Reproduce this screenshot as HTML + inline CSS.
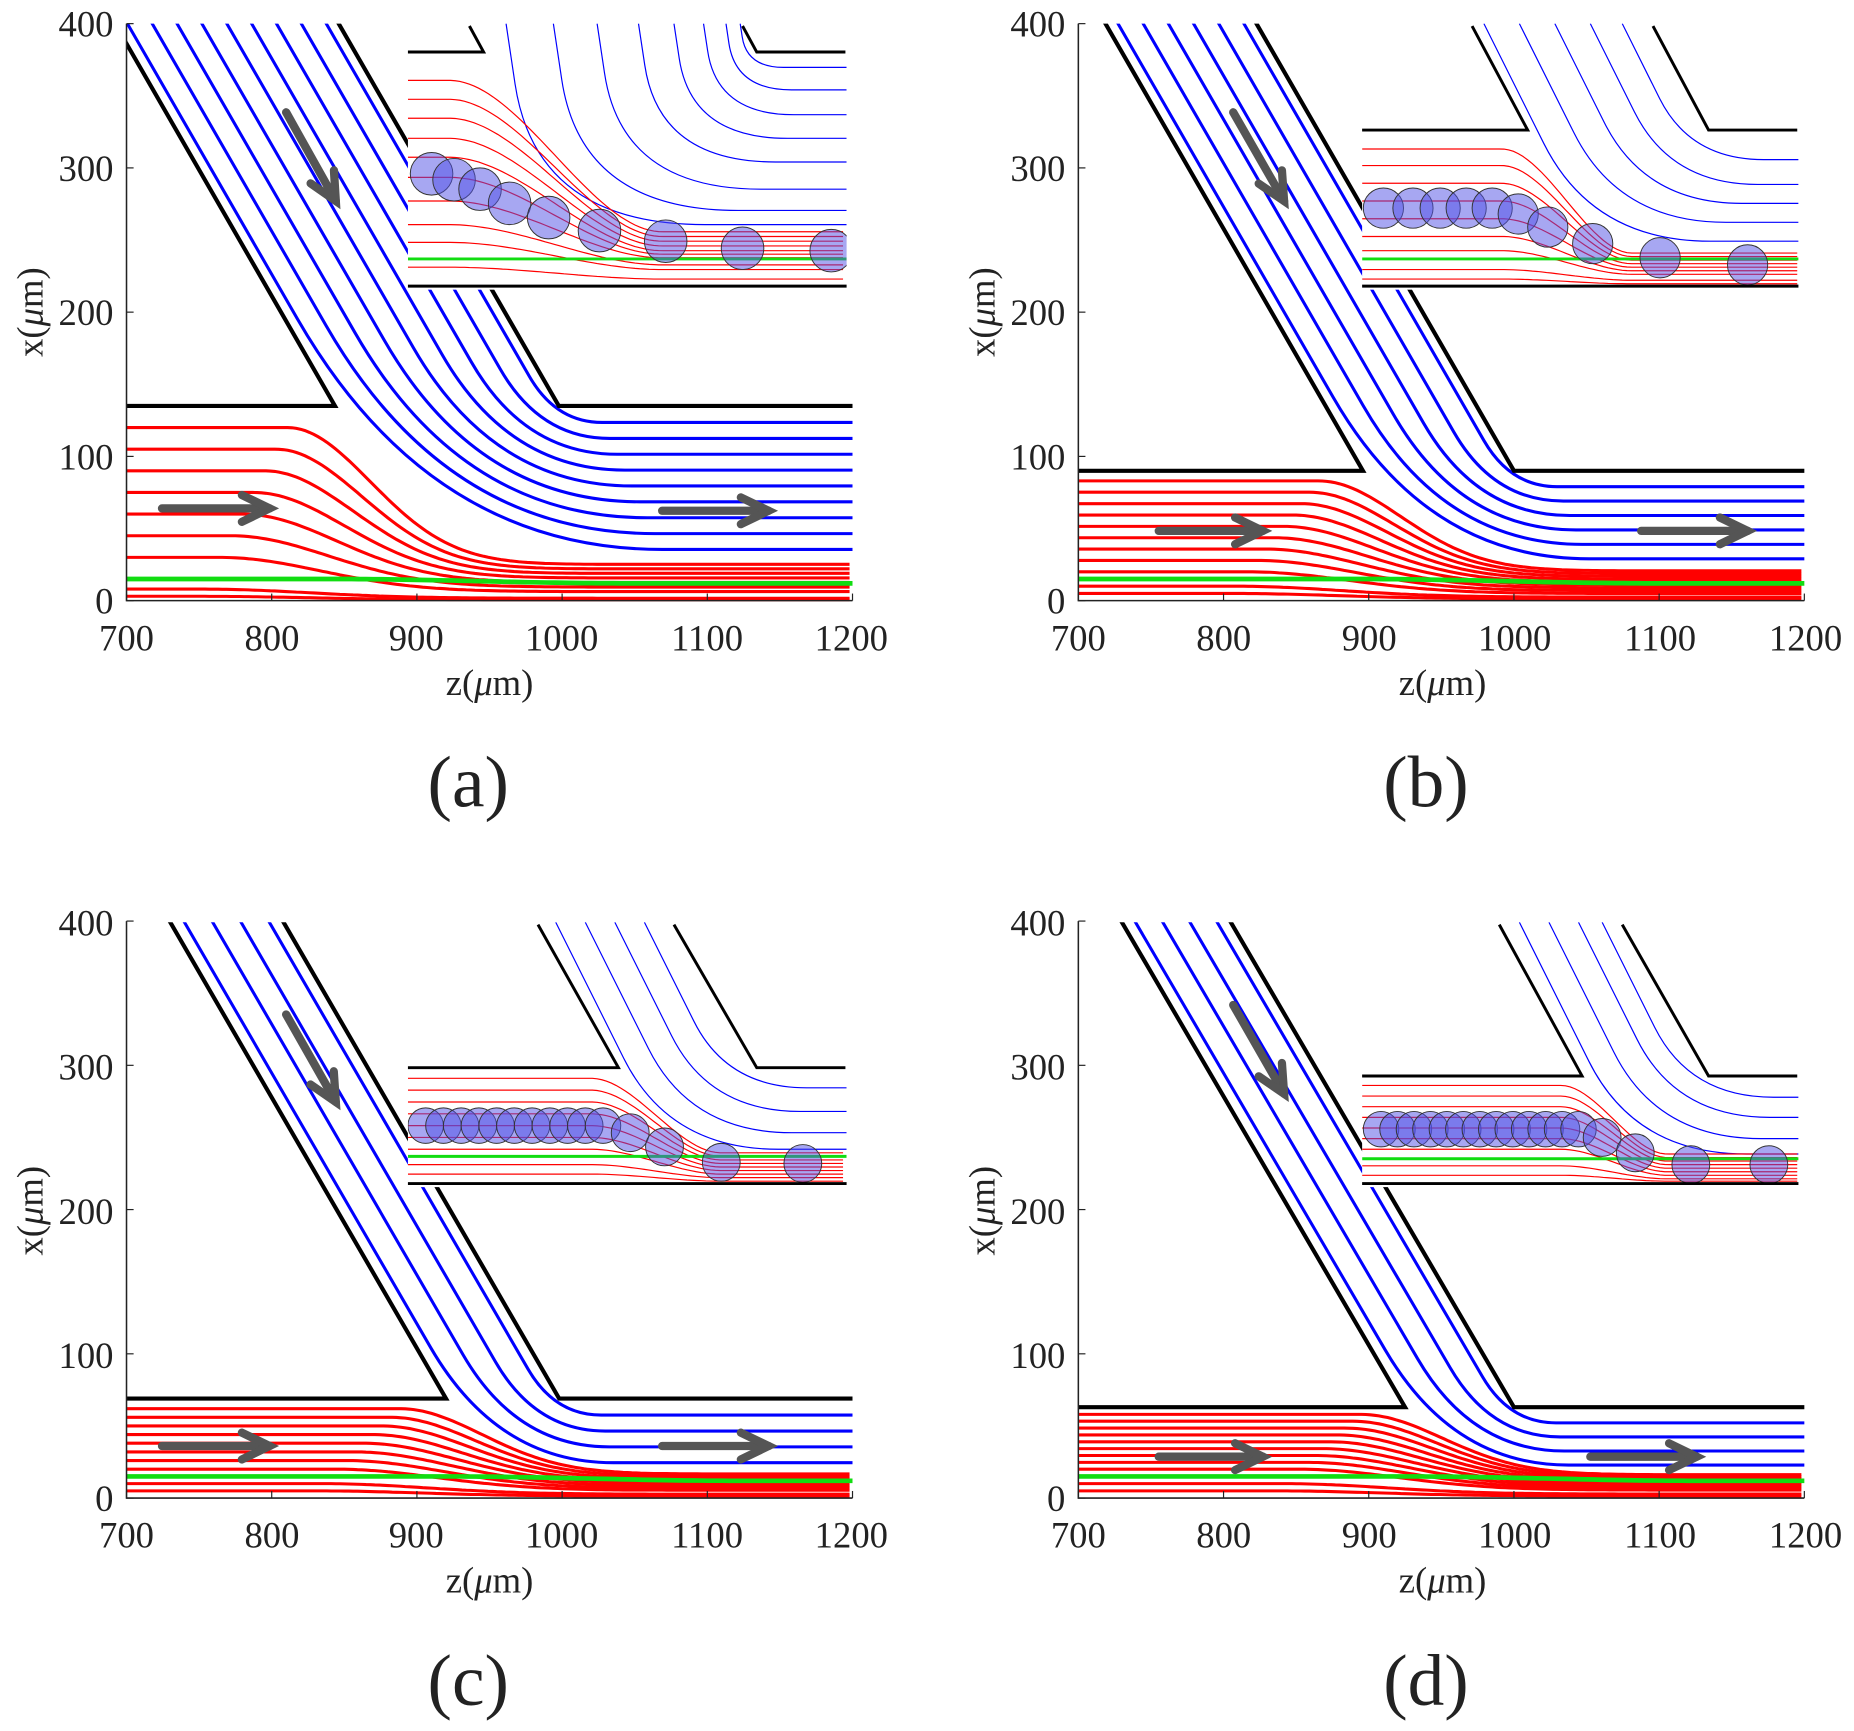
<!DOCTYPE html>
<html><head><meta charset="utf-8"><style>
html,body{margin:0;padding:0;background:#fff}
svg{display:block}
text{font-family:"Liberation Serif",serif;fill:#222}
</style></head><body>
<svg id="s" width="1854" height="1731" viewBox="0 0 1568 1464" preserveAspectRatio="none" xmlns="http://www.w3.org/2000/svg">
<defs>
<clipPath id="ca"><rect x="107" y="20" width="614" height="489"/></clipPath>
<clipPath id="cb"><rect x="912" y="20" width="616" height="489"/></clipPath>
<clipPath id="cc"><rect x="107" y="780" width="614" height="488"/></clipPath>
<clipPath id="cd"><rect x="912" y="780" width="616" height="488"/></clipPath>
</defs>
<g id="g"></g>
<g font-size="31" text-anchor="middle">
<text x="107" y="550">700</text><text x="230" y="550">800</text><text x="352" y="550">900</text><text x="475" y="550">1000</text><text x="598" y="550">1100</text><text x="720" y="550">1200</text>
<text x="912" y="550">700</text><text x="1035" y="550">800</text><text x="1158" y="550">900</text><text x="1281" y="550">1000</text><text x="1404" y="550">1100</text><text x="1527" y="550">1200</text>
<text x="107" y="1309">700</text><text x="230" y="1309">800</text><text x="352" y="1309">900</text><text x="475" y="1309">1000</text><text x="598" y="1309">1100</text><text x="720" y="1309">1200</text>
<text x="912" y="1309">700</text><text x="1035" y="1309">800</text><text x="1158" y="1309">900</text><text x="1281" y="1309">1000</text><text x="1404" y="1309">1100</text><text x="1527" y="1309">1200</text>
<text x="414" y="588">z(<tspan font-style="italic">μ</tspan>m)</text><text x="1220" y="588">z(<tspan font-style="italic">μ</tspan>m)</text>
<text x="414" y="1347">z(<tspan font-style="italic">μ</tspan>m)</text><text x="1220" y="1347">z(<tspan font-style="italic">μ</tspan>m)</text>
<text x="396" y="682" font-size="62">(a)</text><text x="1206" y="682" font-size="62">(b)</text>
<text x="396" y="1442" font-size="62">(c)</text><text x="1206" y="1442" font-size="62">(d)</text>
</g>
<g font-size="31" text-anchor="end">
<text x="96" y="31">400</text><text x="96" y="153">300</text><text x="96" y="275">200</text><text x="96" y="397">100</text><text x="96" y="519">0</text>
<text x="901" y="31">400</text><text x="901" y="153">300</text><text x="901" y="275">200</text><text x="901" y="397">100</text><text x="901" y="519">0</text>
<text x="96" y="791">400</text><text x="96" y="913">300</text><text x="96" y="1035">200</text><text x="96" y="1157">100</text><text x="96" y="1278">0</text>
<text x="901" y="791">400</text><text x="901" y="913">300</text><text x="901" y="1035">200</text><text x="901" y="1157">100</text><text x="901" y="1278">0</text>
</g>
<g font-size="31" text-anchor="middle">
<text transform="translate(36,264) rotate(-90)">x(<tspan font-style="italic">μ</tspan>m)</text>
<text transform="translate(841,264) rotate(-90)">x(<tspan font-style="italic">μ</tspan>m)</text>
<text transform="translate(36,1024) rotate(-90)">x(<tspan font-style="italic">μ</tspan>m)</text>
<text transform="translate(841,1024) rotate(-90)">x(<tspan font-style="italic">μ</tspan>m)</text>
</g>
</svg>
<script>
var G=document.getElementById('g'),out='';
function P(p,z,x){return [(p.ox+(z-700)*1.228).toFixed(1),(p.oy-x*1.22).toFixed(1)];}
function ss(t){t=Math.max(0,Math.min(1,t));return t*t*(3-2*t);}
function ease(t){t=Math.max(0,Math.min(1,t));return (1-Math.exp(-7*t*t))/(1-Math.exp(-7));}
function panel(p){
 var s='<g clip-path="url(#'+p.clip+')">';
 var sl=p.slope;
 function zl(x){return p.zL-(x-p.H)*sl;}
 for(var i=0;i<p.reds.length;i++){
  var xi=p.reds[i],xo=xi*p.k,d='';
  var zs=p.zL-25-(1-xi/p.H)*70, ze=p.zL+180;
  for(var z=700;z<=1200;z+=3){var w=ease((z-zs)/(ze-zs));var x=xi+(xo-xi)*w;var q=P(p,z,x);d+=(z==700?'M':'L')+q[0]+','+q[1];}
  s+='<path d="'+d+'" fill="none" stroke="#f00" stroke-width="2.6"/>';
 }
 var d='';for(var z=700;z<=1200;z+=5){var t=ss((z-p.zL)/200);var x=15-3*t;var q=P(p,z,x);d+=(z==700?'M':'L')+q[0]+','+q[1];}
 s+='<path d="'+d+'" fill="none" stroke="#1d1" stroke-width="4"/>';
 var W=p.zR-p.zL;
 for(var i=0;i<p.nb;i++){
  var f=(i+0.5)/p.nb, xo=p.rt+f*(p.H-p.rt-6);
  var zb=function(x){return p.zL+f*W-(x-p.H)*sl;};
  var R=15+(1-f)*p.Rk;
  var x1=Math.min(400,xo+R*1.6),top=P(p,zb(420),420),p1=P(p,zb(x1),x1),c=P(p,zb(xo),xo),p2=P(p,zb(xo)+R*1.6,xo),e=P(p,1200,xo);
  s+='<path d="M'+top+' L'+p1+' Q'+c+' '+p2+' L'+e+'" fill="none" stroke="#00f" stroke-width="2.6"/>';
 }
 var a=P(p,700,p.H),b=P(p,p.zL,p.H),c2=P(p,zl(420),420);
 s+='<path d="M'+a+' L'+b+' L'+c2+'" fill="none" stroke="#000" stroke-width="3.5"/>';
 var r1=P(p,p.zR-(420-p.H)*sl,420),r2=P(p,p.zR,p.H),r3=P(p,1200,p.H);
 s+='<path d="M'+r1+' L'+r2+' L'+r3+'" fill="none" stroke="#000" stroke-width="3.5"/>';
 s+='</g>';
 var x0=p.ox,x1=p.ox+614,y0=p.oy,yt=p.oy-488;
 s+='<path d="M'+x0+','+yt+' L'+x0+','+y0+' L'+x1+','+y0+'" fill="none" stroke="#222" stroke-width="1.3"/>';
 for(var k=0;k<=5;k++){var xx=x0+k*122.8;s+='<line x1="'+xx+'" y1="'+y0+'" x2="'+xx+'" y2="'+(y0-6)+'" stroke="#222"/>';}
 for(var k=0;k<=4;k++){var yy=y0-k*122;s+='<line x1="'+x0+'" y1="'+yy+'" x2="'+(x0+6)+'" y2="'+yy+'" stroke="#222"/>';}
 return s;
}
function inset(o){
 var b=o.box,top=b[1],s='<rect x="'+b[0]+'" y="'+b[1]+'" width="'+(b[2]-b[0])+'" height="'+(b[3]-b[1])+'" fill="#fff"/>';
 var k=o.sl;
 s+='<g><svg x="'+b[0]+'" y="'+b[1]+'" width="'+(b[2]-b[0])+'" height="'+(b[3]-b[1])+'" viewBox="'+b[0]+' '+b[1]+' '+(b[2]-b[0])+' '+(b[3]-b[1])+'" overflow="hidden">';
 o.blues.forEach(function(q){var xt=q[0],yr=q[1],h=yr-top,xc=xt+h*k,R=h*o.rf;
  s+='<path d="M'+xt+','+top+' L'+(xc-R*k).toFixed(1)+','+(yr-R).toFixed(1)+' Q'+xc.toFixed(1)+','+yr+' '+(xc+R*1.2).toFixed(1)+','+yr+' L'+b[2]+','+yr+'" fill="none" stroke="#00f" stroke-width="1"/>';});
 o.reds.forEach(function(q){var d='';for(var x=b[0];x<=b[2];x+=4){var t=ss((x-o.tr[0])/(o.tr[1]-o.tr[0]));var y=q[0]+(q[1]-q[0])*t;d+=(x==b[0]?'M':'L')+x+','+y.toFixed(1);}s+='<path d="'+d+'" fill="none" stroke="#f00" stroke-width="1"/>';});
 s+='<line x1="'+b[0]+'" y1="'+o.gy+'" x2="'+b[2]+'" y2="'+o.gy+'" stroke="#1d1" stroke-width="2.5"/>';
 o.circ.forEach(function(c){s+='<circle cx="'+c[0]+'" cy="'+c[1]+'" r="'+c[2]+'" fill="rgba(80,80,230,0.5)" stroke="#333" stroke-width="0.8"/>';});
 s+='</svg></g>';
 o.walls.forEach(function(w){s+='<polyline points="'+w+'" fill="none" stroke="#000" stroke-width="2.5"/>';});
 return s;
}
function arrow(x1,y1,x2,y2){
 var a=Math.atan2(y2-y1,x2-x1),L=26,s='<g stroke="#555" stroke-width="7" stroke-linecap="round" fill="none">';
 s+='<line x1="'+x1+'" y1="'+y1+'" x2="'+x2+'" y2="'+y2+'"/>';
 s+='<polyline points="'+(x2-L*Math.cos(a-0.45))+','+(y2-L*Math.sin(a-0.45))+' '+x2+','+y2+' '+(x2-L*Math.cos(a+0.45))+','+(y2-L*Math.sin(a+0.45))+'"/></g>';
 return s;
}
function range(a,b,n){var r=[];for(var i=0;i<n;i++)r.push(a+(b-a)*i/(n-1));return r;}
out+=panel({clip:'ca',ox:107,oy:508,H:135,zL:843.6,zR:997.7,slope:0.572,k:0.21,rt:30,nb:9,Rk:90,reds:[120,105,90,75,60,45,30,8,3]});
out+=panel({clip:'cb',ox:912,oy:508,H:90,zL:896,zR:1000,slope:0.572,k:0.25,rt:24,nb:6,Rk:60,reds:range(83,20,9).concat([10,5])});
out+=panel({clip:'cc',ox:107,oy:1267,H:69,zL:920,zR:998,slope:0.575,k:0.27,rt:19,nb:4,Rk:40,reds:range(62,20,8).concat([10,5])});
out+=panel({clip:'cd',ox:912,oy:1267,H:63,zL:925,zR:1000,slope:0.58,k:0.28,rt:18,nb:4,Rk:40,reds:range(58,20,9).concat([10,5])});
out+=inset({box:[345,20,716,245],gy:219,tr:[380,560],sl:0.15,rf:0.7,
 reds:[[68,196],[84,200],[100,204],[117,208],[133,212],[150,215],[170,218],[190,224],[205,228],[226,236]],
 blues:[[428,190],[468,178],[505,160],[540,137],[570,117],[595,97],[614,76],[626,57]],
 circ:[[365,147,18],[384,152,18],[406,160,18],[431,172,18],[464,184,18],[507,195,18],[563,204,18],[628,210,18],[703,212,18]],
 walls:['345,44 409,44 397,22','628,22 640,44 715,44','345,242 716,242']});
out+=inset({box:[1152,20,1521,245],gy:219,tr:[1270,1380],sl:0.5,rf:0.45,
 reds:[[126,214],[140,217],[155,220],[170,223],[185,226],[200,229],[212,232],[228,237],[236,240]],
 blues:[[1255,204],[1285,188],[1315,172],[1345,156],[1372,135]],
 circ:[[1170,176,17],[1195,176,17],[1218,176,17],[1240,176,17],[1262,176,17],[1284,181,17],[1309,192,17],[1347,206,17],[1404,218,17],[1478,224,17]],
 walls:['1152,110 1292,110 1245,22','1398,22 1445,110 1520,110','1152,242 1521,242']});
out+=inset({box:[345,780,716,1004],gy:978,tr:[500,610],sl:0.5,rf:0.4,
 reds:[[912,975],[922,978],[932,981],[942,984],[952,987],[962,990],[972,993],[985,996],[993,999]],
 blues:[[470,972],[495,958],[520,940],[545,920]],
 circ:range(360,510,11).map(function(x){return [x,952,15]}).concat([[533,958,16],[562,970,16],[610,983,16],[679,984,16]]),
 walls:['345,903 523,903 455,782','570,782 640,903 715,903','345,1001 716,1001']});
out+=inset({box:[1152,780,1521,1004],gy:980,tr:[1320,1410],sl:0.5,rf:0.4,
 reds:[[918,976],[927,979],[936,982],[945,985],[954,988],[963,991],[972,994],[986,997],[994,999]],
 blues:[[1285,976],[1310,963],[1335,945],[1355,928]],
 circ:range(1168,1335,13).map(function(x){return [x,955,15]}).concat([[1355,962,16],[1383,975,16],[1430,985,16],[1496,985,16]]),
 walls:['1152,910 1338,910 1268,782','1372,782 1445,910 1520,910','1152,1001 1521,1001']});
out+=arrow(137,430,228,430)+arrow(560,432,650,432)+arrow(242,95,284,170);
out+=arrow(980,449,1068,449)+arrow(1388,449,1478,449)+arrow(1043,95,1086,170);
out+=arrow(137,1223,228,1223)+arrow(560,1223,650,1223)+arrow(242,858,284,932);
out+=arrow(980,1232,1068,1232)+arrow(1345,1232,1435,1232)+arrow(1043,850,1086,925);
G.innerHTML=out;
</script>
</body></html>
